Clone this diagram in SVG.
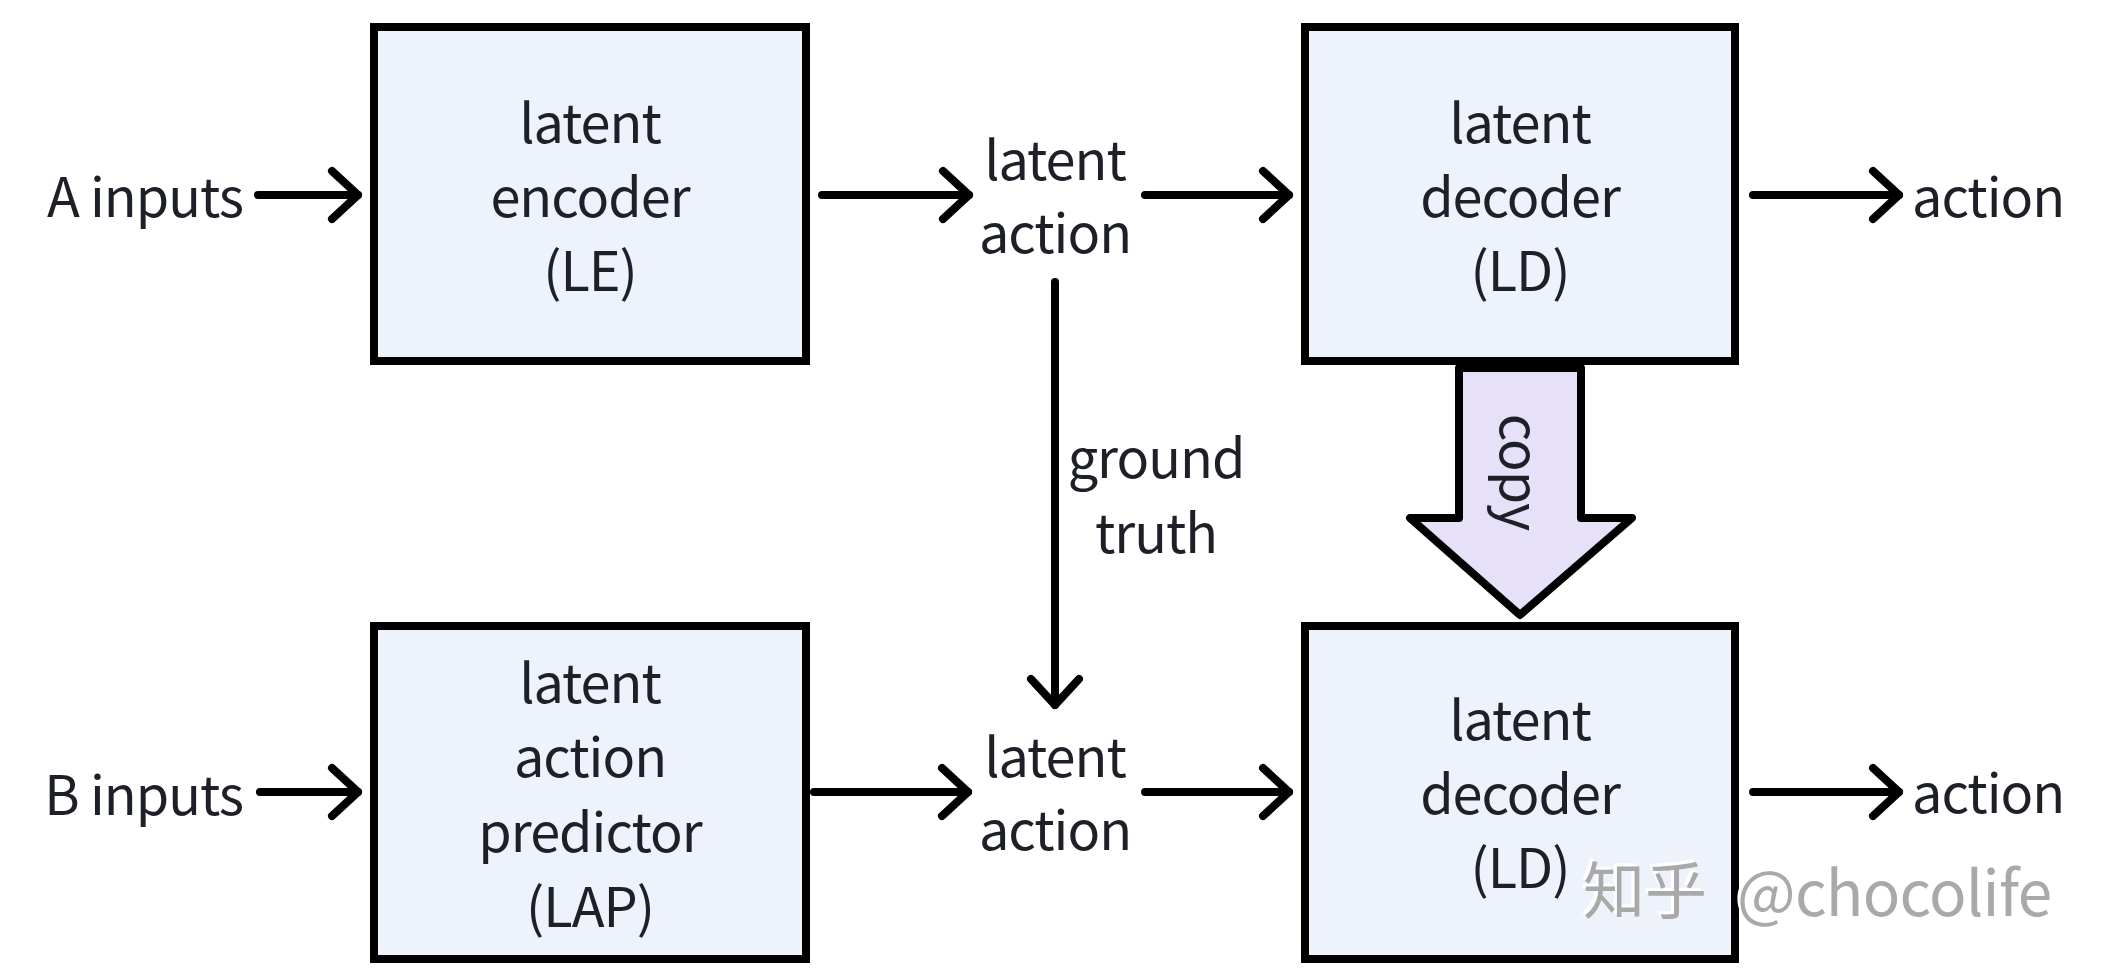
<svg xmlns="http://www.w3.org/2000/svg" width="2106" height="978" viewBox="0 0 2106 978">
<style>
  .box { fill: #eef3fb; stroke: #000; stroke-width: 8; }
  .t { font-family: "Noto Sans CJK SC", "Noto Sans", sans-serif; font-size: 54px; letter-spacing: -1px; fill: #1d2027; }
  .c { text-anchor: middle; }
  .conn { stroke: #000; stroke-width: 8; stroke-linecap: round; fill: none; }
  .wm { font-family: "Noto Sans CJK SC", "Noto Sans", sans-serif; font-size: 62px; }
</style>
<defs>
  <marker id="ah" markerUnits="userSpaceOnUse" orient="auto" refX="0" refY="0" markerWidth="60" markerHeight="60" viewBox="-40 -30 60 60" style="overflow:visible">
    <path d="M-26,-24 L0,0 L-26,24" fill="none" stroke="#000" stroke-width="8" stroke-linecap="round" stroke-linejoin="round"/>
  </marker>
</defs>
<rect width="2106" height="978" fill="#fff"/>

<g id="connectors">
  <line class="conn" x1="258" y1="195" x2="358" y2="195" marker-end="url(#ah)"/>
  <line class="conn" x1="822" y1="195" x2="969" y2="195" marker-end="url(#ah)"/>
  <line class="conn" x1="1145" y1="195" x2="1289" y2="195" marker-end="url(#ah)"/>
  <line class="conn" x1="1753" y1="195" x2="1899" y2="195" marker-end="url(#ah)"/>
  <line class="conn" x1="1055" y1="282" x2="1055" y2="705" marker-end="url(#ah)"/>
  <line class="conn" x1="260" y1="792" x2="358" y2="792" marker-end="url(#ah)"/>
  <line class="conn" x1="814" y1="792" x2="968" y2="792" marker-end="url(#ah)"/>
  <line class="conn" x1="1145" y1="792" x2="1289" y2="792" marker-end="url(#ah)"/>
  <line class="conn" x1="1753" y1="792" x2="1899" y2="792" marker-end="url(#ah)"/>
</g>

<g id="a-inputs"><text class="t" x="243" y="217" text-anchor="end">A inputs</text></g>
<g id="b-inputs"><text class="t" x="243" y="815" text-anchor="end">B inputs</text></g>

<g id="le">
  <rect class="box" x="374" y="27" width="432" height="334"/>
  <text class="t c" x="590" y="143">latent</text>
  <text class="t c" x="590" y="217">encoder</text>
  <text class="t c" x="590" y="291">(LE)</text>
</g>

<g id="latent-action-top">
  <text class="t c" x="1055" y="180">latent</text>
  <text class="t c" x="1055" y="253">action</text>
</g>

<g id="ld-top">
  <rect class="box" x="1305" y="27" width="430" height="334"/>
  <text class="t c" x="1520" y="143">latent</text>
  <text class="t c" x="1520" y="217">decoder</text>
  <text class="t c" x="1520" y="291">(LD)</text>
</g>

<g id="action-top"><text class="t" x="1912" y="217">action</text></g>

<g id="ground-truth">
  <text class="t c" x="1156" y="478">ground</text>
  <text class="t c" x="1156" y="553">truth</text>
</g>

<g id="copy-arrow">
  <polygon points="1459,368 1581,368 1581,518 1632,518 1520,615 1410,518 1459,518" fill="#e6e0f8" stroke="#000" stroke-width="8" stroke-linejoin="round"/>
  <text class="t c" transform="translate(1500,472) rotate(90)" x="0" y="0">copy</text>
</g>

<g id="lap">
  <rect class="box" x="374" y="626" width="432" height="333"/>
  <text class="t c" x="590" y="703">latent</text>
  <text class="t c" x="590" y="777">action</text>
  <text class="t c" x="590" y="852">predictor</text>
  <text class="t c" x="590" y="927">(LAP)</text>
</g>

<g id="latent-action-bottom">
  <text class="t c" x="1055" y="777">latent</text>
  <text class="t c" x="1055" y="850">action</text>
</g>

<g id="ld-bottom">
  <rect class="box" x="1305" y="626" width="430" height="333"/>
  <text class="t c" x="1520" y="740">latent</text>
  <text class="t c" x="1520" y="814">decoder</text>
  <text class="t c" x="1520" y="888">(LD)</text>
</g>

<g id="action-bottom"><text class="t" x="1912" y="813">action</text></g>

<g id="watermark">
  <text class="wm" x="1580" y="911" fill="#ffffff">知乎</text>
  <text class="wm" x="1583" y="914" fill="#a9a9a9">知乎</text>
  <text class="wm" x="1734" y="913" fill="#ffffff" textLength="315" lengthAdjust="spacing">@chocolife</text>
  <text class="wm" x="1737" y="916" fill="#a9a9a9" textLength="315" lengthAdjust="spacing">@chocolife</text>
</g>
</svg>
